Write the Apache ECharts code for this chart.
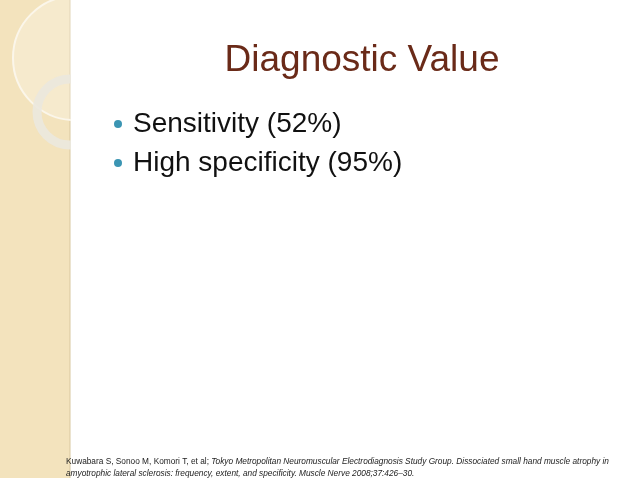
<!DOCTYPE html>
<html>
<head>
<meta charset="utf-8">
<script src="https://cdn.jsdelivr.net/npm/echarts@6/dist/echarts.min.js"></script>
<style>
  html, body { margin: 0; padding: 0; background: #fff; }
  #chart { width: 638px; height: 478px; }
</style>
</head>
<body>
<div id="chart"></div>
<script>
// Slide content
const titleText = 'Diagnostic Value';
const bulletLabels = ['Sensitivity (52%)', 'High specificity (95%)'];
const citeLine1 = ['Kuwabara S, Sonoo M, Komori T, et al; ', 'Tokyo Metropolitan Neuromuscular Electrodiagnosis Study Group. Dissociated small hand muscle atrophy in'];
const citeLine2 = ['amyotrophic lateral sclerosis: frequency, extent, and specificity. Muscle Nerve 2008;37:426\u201330.'];

const myChart = echarts.init(document.getElementById('chart'));

const font = 'Liberation Sans, Arial, sans-serif';

const graphics = [
    // beige strip on the left
    { type: 'rect', shape: { x: 0, y: 0, width: 70, height: 478 }, style: { fill: '#f3e3bd' } },
    { type: 'line', shape: { x1: 70, y1: 0, x2: 70, y2: 478 }, style: { stroke: '#d8c79f', lineWidth: 1 } },
    // decorative circles, clipped to the strip
    {
        type: 'group',
        clipPath: { type: 'rect', shape: { x: 0, y: 0, width: 71, height: 478 } },
        children: [
            { type: 'circle', shape: { cx: 75, cy: 58, r: 62 }, style: { fill: 'rgba(255,255,255,0.25)', stroke: '#fbf6ea', lineWidth: 2 } },
            { type: 'circle', shape: { cx: 70, cy: 112, r: 33 }, style: { fill: 'none', stroke: 'rgba(235,232,222,0.9)', lineWidth: 9 } }
        ]
    },
    // title
    {
        type: 'text', x: 362, y: 61,
        style: { text: titleText, font: '37px ' + font, fill: '#6a2a18', align: 'center', verticalAlign: 'middle' }
    }
];

bulletLabels.forEach((label, i) => {
    const y = 124 + i * 39;
    graphics.push({ type: 'circle', shape: { cx: 118, cy: y, r: 4 }, style: { fill: '#3b95b3' } });
    graphics.push({
        type: 'text', x: 133, y: y,
        style: { text: label, font: '28px ' + font, fill: '#111', verticalAlign: 'middle' }
    });
});

// citation
graphics.push({
    type: 'text', x: 66, y: 462,
    style: {
        text: '{n|' + citeLine1[0] + '}{i|' + citeLine1[1] + '}',
        verticalAlign: 'middle',
        rich: {
            n: { font: '8.3px ' + font, fill: '#222' },
            i: { font: 'italic 8.3px ' + font, fill: '#222' }
        }
    }
});
graphics.push({
    type: 'text', x: 66, y: 474,
    style: { text: citeLine2[0], font: 'italic 8.3px ' + font, fill: '#222', verticalAlign: 'middle' }
});

myChart.setOption({
    backgroundColor: '#ffffff',
    graphic: graphics
});
</script>
</body>
</html>
